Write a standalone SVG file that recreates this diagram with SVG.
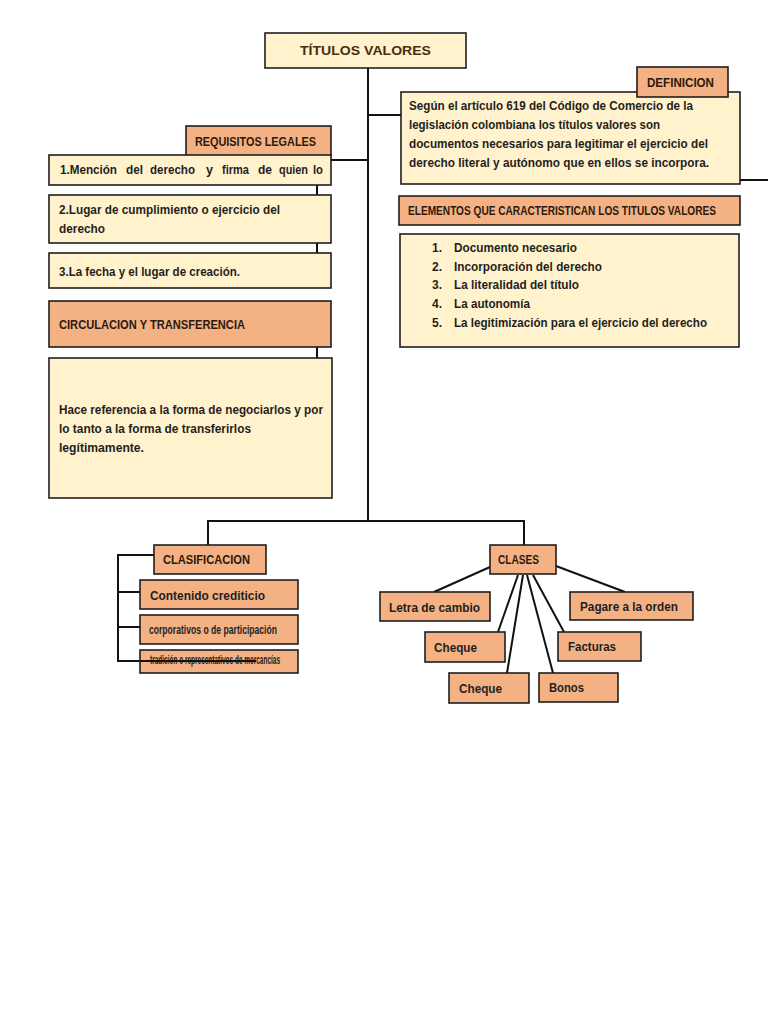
<svg xmlns="http://www.w3.org/2000/svg" width="768" height="1024" viewBox="0 0 768 1024">
<style>
.cream{fill:#FFF2CC;stroke:#1e1e1e;stroke-width:1.6}
.sal{fill:#F4B183;stroke:#1e1e1e;stroke-width:1.6}
.t{font-family:"Liberation Sans",Arial,sans-serif;font-weight:bold;font-size:12px;fill:#1f1f1f}
.h{font-family:"Liberation Sans",Arial,sans-serif;font-weight:bold;font-size:12px;fill:#2a1a0e}
.ln{stroke:#111;stroke-width:2;fill:none}
</style>
<rect width="768" height="1024" fill="#fff"/>
<g id="connectors">
<path class="ln" d="M368 68V521"/>
<path class="ln" d="M368 115H401"/>
<path class="ln" d="M740 180H768"/>
<path class="ln" d="M331 160H368"/>
<path class="ln" d="M317 185V195M317 243V253M317 347V358"/>
<path class="ln" d="M208 545V521H524V545"/>
<path class="ln" d="M154 555H118V661H256M118 592H140M118 627H140"/>
<path class="ln" d="M490 567L434 592"/>
<path class="ln" d="M556 566L625 592"/>
<path class="ln" d="M518 575L498 632"/>
<path class="ln" d="M523 575L507 673"/>
<path class="ln" d="M527 575L553 673"/>
<path class="ln" d="M533 575L564 632"/>
</g>
<g id="titulos">
<rect class="cream" x="265" y="33" width="201" height="35"/>
<text class="h" x="365.5" y="55" font-size="15" text-anchor="middle" textLength="131" lengthAdjust="spacingAndGlyphs" style="fill:#4a2c10">TÍTULOS VALORES</text>
</g>
<g id="definicion-box">
<rect class="cream" x="401" y="92" width="339" height="92"/>
<text class="t" x="409" y="110" textLength="284" lengthAdjust="spacingAndGlyphs">Según el artículo 619 del Código de Comercio de la</text>
<text class="t" x="409" y="129" textLength="251" lengthAdjust="spacingAndGlyphs">legislación colombiana los títulos valores son</text>
<text class="t" x="409" y="148" textLength="299" lengthAdjust="spacingAndGlyphs">documentos necesarios para legitimar el ejercicio del</text>
<text class="t" x="409" y="167" textLength="300" lengthAdjust="spacingAndGlyphs">derecho literal y autónomo que en ellos se incorpora.</text>
</g>
<g id="definicion">
<rect class="sal" x="637" y="67" width="91" height="30"/>
<text class="h" x="647" y="87" textLength="67" lengthAdjust="spacingAndGlyphs">DEFINICION</text>
</g>
<g id="requisitos">
<rect class="sal" x="186" y="126" width="145" height="30"/>
<text class="h" x="195" y="146" textLength="121" lengthAdjust="spacingAndGlyphs">REQUISITOS LEGALES</text>
</g>
<g id="req1">
<rect class="cream" x="49" y="155" width="282" height="30"/>
<text class="t" x="60" y="174" textLength="57" lengthAdjust="spacingAndGlyphs">1.Mención</text>
<text class="t" x="126" y="174" textLength="17" lengthAdjust="spacingAndGlyphs">del</text>
<text class="t" x="150" y="174" textLength="45" lengthAdjust="spacingAndGlyphs">derecho</text>
<text class="t" x="206" y="174" textLength="7" lengthAdjust="spacingAndGlyphs">y</text>
<text class="t" x="222" y="174" textLength="27" lengthAdjust="spacingAndGlyphs">firma</text>
<text class="t" x="258" y="174" textLength="14" lengthAdjust="spacingAndGlyphs">de</text>
<text class="t" x="279" y="174" textLength="29" lengthAdjust="spacingAndGlyphs">quien</text>
<text class="t" x="313" y="174" textLength="10" lengthAdjust="spacingAndGlyphs">lo</text>
</g>
<g id="req2">
<rect class="cream" x="49" y="195" width="282" height="48"/>
<text class="t" x="59" y="214" textLength="221" lengthAdjust="spacingAndGlyphs">2.Lugar de cumplimiento o ejercicio del</text>
<text class="t" x="59" y="233" textLength="46" lengthAdjust="spacingAndGlyphs">derecho</text>
</g>
<g id="req3">
<rect class="cream" x="49" y="253" width="282" height="35"/>
<text class="t" x="59" y="276" textLength="181" lengthAdjust="spacingAndGlyphs">3.La fecha y el lugar de creación.</text>
</g>
<g id="circulacion">
<rect class="sal" x="49" y="301" width="282" height="46"/>
<text class="h" x="59" y="329" textLength="186" lengthAdjust="spacingAndGlyphs">CIRCULACION Y TRANSFERENCIA</text>
</g>
<g id="circulacion-desc">
<rect class="cream" x="49" y="358" width="283" height="140"/>
<text class="t" x="59" y="414" textLength="264" lengthAdjust="spacingAndGlyphs">Hace referencia a la forma de negociarlos y por</text>
<text class="t" x="59" y="433" textLength="192" lengthAdjust="spacingAndGlyphs">lo tanto a la forma de transferirlos</text>
<text class="t" x="59" y="452" textLength="85" lengthAdjust="spacingAndGlyphs">legítimamente.</text>
</g>
<g id="elementos">
<rect class="sal" x="399" y="196" width="341" height="29"/>
<text class="h" x="408" y="215" font-size="9.5" textLength="308" lengthAdjust="spacingAndGlyphs">ELEMENTOS QUE CARACTERISTICAN LOS TITULOS VALORES</text>
</g>
<g id="elementos-lista">
<rect class="cream" x="400" y="234" width="339" height="113"/>
<text class="t" x="432" y="252">1.</text>
<text class="t" x="454" y="252" textLength="123" lengthAdjust="spacingAndGlyphs">Documento necesario</text>
<text class="t" x="432" y="271">2.</text>
<text class="t" x="454" y="271" textLength="148" lengthAdjust="spacingAndGlyphs">Incorporación del derecho</text>
<text class="t" x="432" y="289">3.</text>
<text class="t" x="454" y="289" textLength="125" lengthAdjust="spacingAndGlyphs">La literalidad del título</text>
<text class="t" x="432" y="308">4.</text>
<text class="t" x="454" y="308" textLength="76" lengthAdjust="spacingAndGlyphs">La autonomía</text>
<text class="t" x="432" y="327">5.</text>
<text class="t" x="454" y="327" textLength="253" lengthAdjust="spacingAndGlyphs">La legitimización para el ejercicio del derecho</text>
</g>
<g id="clasificacion">
<rect class="sal" x="154" y="545" width="112" height="29"/>
<text class="h" x="163" y="564" textLength="87" lengthAdjust="spacingAndGlyphs">CLASIFICACION</text>
</g>
<g id="contenido">
<rect class="sal" x="140" y="580" width="158" height="29"/>
<text class="t" x="150" y="600" font-size="13.5" textLength="115" lengthAdjust="spacingAndGlyphs">Contenido crediticio</text>
</g>
<g id="corporativos">
<rect class="sal" x="140" y="615" width="158" height="29"/>
<text class="t" x="149" y="634" font-size="9" textLength="128" lengthAdjust="spacingAndGlyphs">corporativos o de participación</text>
</g>
<g id="tradicion">
<rect class="sal" x="140" y="650" width="158" height="23"/>
<text class="t" x="150" y="664" font-size="7" textLength="130" lengthAdjust="spacingAndGlyphs">tradición o representativos de mercancías</text>
<path class="ln" d="M140 661H256"/>
</g>
<g id="clases">
<rect class="sal" x="490" y="545" width="66" height="29"/>
<text class="h" x="498" y="564" textLength="41" lengthAdjust="spacingAndGlyphs">CLASES</text>
</g>
<g id="letra">
<rect class="sal" x="380" y="592" width="110" height="29"/>
<text class="t" x="389" y="612" textLength="91" lengthAdjust="spacingAndGlyphs">Letra de cambio</text>
</g>
<g id="pagare">
<rect class="sal" x="570" y="592" width="123" height="28"/>
<text class="t" x="580" y="611" textLength="98" lengthAdjust="spacingAndGlyphs">Pagare a la orden</text>
</g>
<g id="cheque1">
<rect class="sal" x="425" y="632" width="80" height="30"/>
<text class="t" x="434" y="652" textLength="43" lengthAdjust="spacingAndGlyphs">Cheque</text>
</g>
<g id="facturas">
<rect class="sal" x="558" y="632" width="83" height="29"/>
<text class="t" x="568" y="651" textLength="48" lengthAdjust="spacingAndGlyphs">Facturas</text>
</g>
<g id="cheque2">
<rect class="sal" x="449" y="673" width="80" height="30"/>
<text class="t" x="459" y="693" textLength="43" lengthAdjust="spacingAndGlyphs">Cheque</text>
</g>
<g id="bonos">
<rect class="sal" x="539" y="673" width="79" height="29"/>
<text class="t" x="549" y="692" textLength="35" lengthAdjust="spacingAndGlyphs">Bonos</text>
</g>
</svg>
